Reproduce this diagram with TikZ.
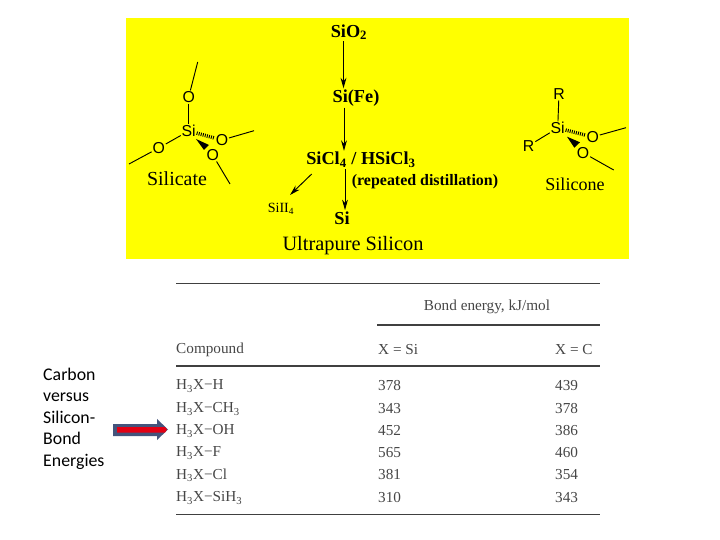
\documentclass[tikz,border=0pt]{standalone}
\usepackage{fontspec}
\usetikzlibrary{arrows.meta}
\setmainfont{Liberation Serif}
\newfontfamily\atomfont{Liberation Sans}
\newfontfamily\notefont{Carlito}
\definecolor{panelyellow}{RGB}{255,255,0}
\definecolor{tabletext}{RGB}{70,70,70}
\definecolor{blockblue}{RGB}{68,84,124}
\definecolor{blockred}{RGB}{226,0,20}
\newcommand{\fs}[1]{\fontsize{#1}{#1}\selectfont}
\tikzset{
	atom/.style={inner sep=0.6pt,font=\atomfont\fs{13.5}},
	bond/.style={line width=0.8pt},
	hashbond/.style={line width=3pt,dash pattern=on 0.8pt off 1pt},
	stepname/.style={inner sep=1pt,font=\bfseries\fs{15.6}},
	caption/.style={inner sep=0pt,font=\fs{17}},
	cell/.style={anchor=west,inner sep=0pt,yshift=-1.7pt,text=tabletext,font=\fs{13}},
	rowrule/.style={line width=1.5pt,draw=black!75}
}
\begin{document}
\begin{tikzpicture}[x=0.03cm,y=-0.03cm,line join=round,>={Stealth[length=9pt,width=5pt]}]
	\useasboundingbox (0,0) rectangle (720,540);
	\fill[panelyellow] (126,18) rectangle (629,259);
	% silicate
	\node[atom] (siA) at (188.7,131) {Si};
	\node[atom] (oTop) at (188.7,97) {O};
	\node[atom] (oLeft) at (158.7,148) {O};
	\node[atom] (oRight) at (222,140) {O};
	\node[atom] (oLow) at (212.7,155) {O};
	\coordinate (endTop) at (197.7,62);
	\coordinate (endLeft) at (129,164);
	\coordinate (endRight) at (254,130.7);
	\coordinate (endLow) at (230,184);
	\draw[bond] (oTop)--(endTop);
	\draw[bond] (oTop)--(siA);
	\draw[bond] (siA)--(oLeft);
	\draw[bond] (oLeft)--(endLeft);
	\draw[bond] (oRight)--(endRight);
	\draw[bond] (oLow)--(endLow);
	\draw[hashbond] (siA)--(oRight);
	\fill (196,139) -- (204,150) -- (209,145) -- cycle;
	\node[caption] (silicate) at (177,179) {Silicate};
	% process
	\node[stepname] (sio) at (349,32) {SiO\textsubscript{2}};
	\node[stepname] (sife) at (356,98) {Si(Fe)};
	\node[stepname] (sicl) at (361,160) {SiCl\textsubscript{4} / HSiCl\textsubscript{3}};
	\node[stepname] (si) at (342,218) {Si};
	\node[inner sep=0pt,font=\fs{12}] (sii) at (281,209) {SiII\textsubscript{4}};
	\node[inner sep=0pt,font=\bfseries\fs{13.6}] (dist) at (425,182) {(repeated distillation)};
	\node[caption,font=\fs{17.4}] (pure) at (353,246) {Ultrapure Silicon};
	\coordinate (siiTop) at (290,195);
	\coordinate (siclLeft) at (311.7,174);
	\draw[bond,->] (sio.south -| 343.5,0)--(sife.north -| 343.5,0);
	\draw[bond,->] (sife.south -| 344,0)--(sicl.north -| 344,0);
	\draw[bond,->] (sicl.south -| 345,0)--(si.north -| 345,0);
	\draw[bond,->] (siclLeft)--(siiTop);
	% silicone
	\node[atom] (siB) at (557.7,128) {Si};
	\node[atom] (rTop) at (559,94) {R};
	\node[atom] (rLeft) at (528.7,145.7) {R};
	\node[atom] (oSide) at (592.7,137) {O};
	\node[atom] (oDown) at (583,152.7) {O};
	\coordinate (endSide) at (626,127.7);
	\coordinate (endDown) at (613.7,170);
	\draw[bond] (rTop)--(siB);
	\draw[bond] (siB)--(rLeft);
	\draw[bond] (oSide)--(endSide);
	\draw[bond] (oDown)--(endDown);
	\draw[hashbond] (siB)--(oSide);
	\fill (567,136.7) -- (574.3,147.7) -- (580,142.3) -- cycle;
	\node[caption,font=\fs{15.4}] (silicone) at (575,184) {Silicone};
	% table
	\draw[rowrule] (176,283.5)--(600,283.5);
	\draw[rowrule] (377,325)--(600,325);
	\draw[rowrule] (176,366)--(600,366);
	\draw[rowrule] (176,514.5)--(600,514.5);
	\node[cell,anchor=center] (head) at (487,305) {Bond energy, kJ/mol};
	\node[cell] (compound) at (176,348) {Compound};
	\node[cell] (xsi) at (378,348) {X = Si};
	\node[cell] (xc) at (555,348) {X = C};
	\node[cell] (rowA) at (176,384) {H\textsubscript{3}X−H};
	\node[cell] (rowB) at (176,407) {H\textsubscript{3}X−CH\textsubscript{3}};
	\node[cell] (rowC) at (176,429) {H\textsubscript{3}X−OH};
	\node[cell] (rowD) at (176,451) {H\textsubscript{3}X−F};
	\node[cell] (rowE) at (176,473) {H\textsubscript{3}X−Cl};
	\node[cell] (rowF) at (176,496) {H\textsubscript{3}X−SiH\textsubscript{3}};
	\node[cell] (siA1) at (378,384) {378};
	\node[cell] (siB1) at (378,407) {343};
	\node[cell] (siC1) at (378,429) {452};
	\node[cell] (siD1) at (378,451) {565};
	\node[cell] (siE1) at (378,473) {381};
	\node[cell] (siF1) at (378,496) {310};
	\node[cell] (cA) at (555,384) {439};
	\node[cell] (cB) at (555,407) {378};
	\node[cell] (cC) at (555,429) {386};
	\node[cell] (cD) at (555,451) {460};
	\node[cell] (cE) at (555,473) {354};
	\node[cell] (cF) at (555,496) {343};
	% note and block arrow
	\node[anchor=north west,inner sep=0pt,align=left,font=\notefont\fontsize{15.2}{18.4}\selectfont] (note) at (43,367.5) {Carbon\\versus\\Silicon-\\Bond\\Energies};
	\fill[blockblue] (113,424)--(157,424)--(157,419)--(168,429.5)--(157,440)--(157,436)--(113,436)--cycle;
	\fill[blockred] (117,427)--(165,427)--(167,429.5)--(165,432.5)--(117,432.5)--cycle;
\end{tikzpicture}
\end{document}
